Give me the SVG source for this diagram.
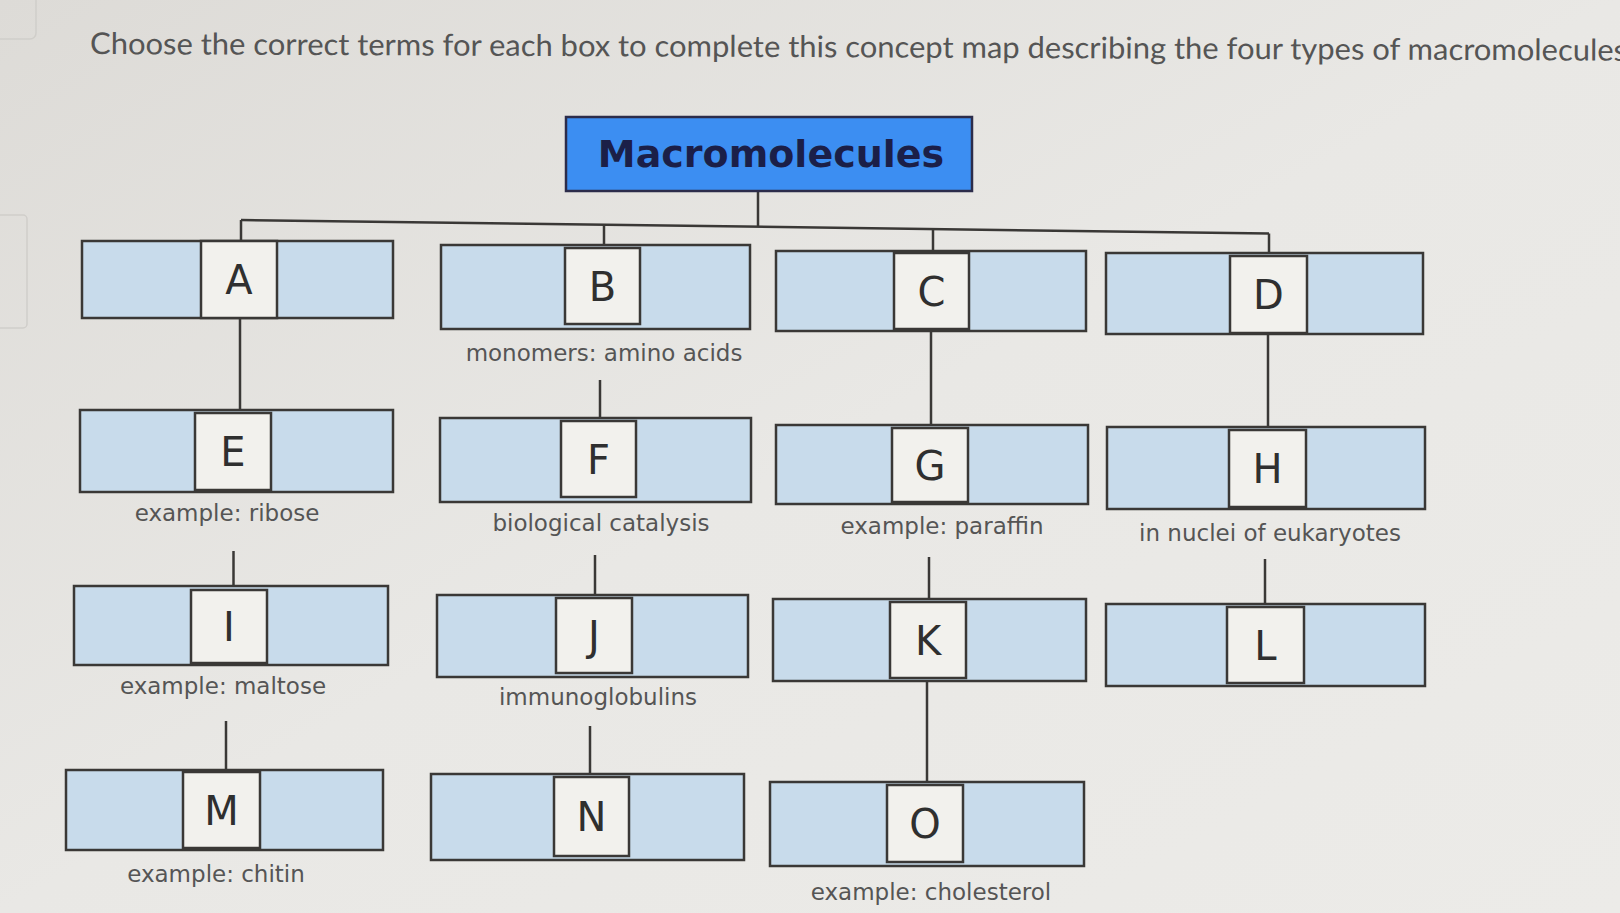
<svg xmlns="http://www.w3.org/2000/svg" width="1620" height="913" viewBox="0 0 1620 913">
<defs>
<linearGradient id="bg" x1="0" y1="0" x2="1" y2="1">
<stop offset="0" stop-color="#dddbd7"/>
<stop offset="0.5" stop-color="#e9e8e5"/>
<stop offset="1" stop-color="#ecebe8"/>
</linearGradient>
<style>
.box{fill:#c8dbeb;stroke:#3a3836;stroke-width:2.5}
.lbl{fill:#f2f1ed;stroke:#3a3836;stroke-width:2.5}
.letter{font-family:"DejaVu Sans",sans-serif;font-size:40px;fill:#2f2f2f;text-anchor:middle}
.desc{font-family:"DejaVu Sans",sans-serif;font-size:23px;fill:#555;text-anchor:middle}
.conn{stroke:#3a3836;stroke-width:2.5;fill:none}
</style>
</defs>
<rect width="1620" height="913" fill="url(#bg)"/>
<rect x="-10" y="-10" width="46" height="49" rx="6" fill="none" stroke="#d0ceca" stroke-width="1.5"/>
<rect x="-10" y="215" width="37" height="113" rx="4" fill="none" stroke="#d0ceca" stroke-width="1.5"/>
<text x="90" y="54" font-family="Lato, 'Liberation Sans', sans-serif" font-size="30" fill="#555" textLength="1537" lengthAdjust="spacingAndGlyphs" transform="rotate(0.25 90 54)">Choose the correct terms for each box to complete this concept map describing the four types of macromolecules</text>

<g id="connectors">
<line class="conn" x1="758" y1="191" x2="758" y2="227"/>
<line class="conn" x1="241" y1="220" x2="1269" y2="233.5"/>
<line class="conn" x1="241" y1="220" x2="241" y2="241"/>
<line class="conn" x1="604" y1="224.8" x2="604" y2="245"/>
<line class="conn" x1="933" y1="229" x2="933" y2="251"/>
<line class="conn" x1="1269" y1="233.5" x2="1269" y2="253"/>
<line class="conn" x1="240" y1="318" x2="240" y2="410"/>
<line class="conn" x1="233.5" y1="551" x2="233.5" y2="586"/>
<line class="conn" x1="226" y1="721" x2="226" y2="770"/>
<line class="conn" x1="600" y1="380" x2="600" y2="418"/>
<line class="conn" x1="595" y1="555" x2="595" y2="595"/>
<line class="conn" x1="590" y1="726" x2="590" y2="774"/>
<line class="conn" x1="931" y1="331" x2="931" y2="425"/>
<line class="conn" x1="929" y1="557" x2="929" y2="599"/>
<line class="conn" x1="927" y1="681" x2="927" y2="782"/>
<line class="conn" x1="1268" y1="334" x2="1268" y2="427"/>
<line class="conn" x1="1265" y1="559" x2="1265" y2="604"/>
</g>

<g id="node-macromolecules">
<rect x="566" y="117" width="406" height="74" fill="#3c8ef2" stroke="#2c2c4a" stroke-width="2.5"/>
<text x="771" y="167" font-family="'DejaVu Sans', sans-serif" font-weight="bold" font-size="38" fill="#1b1f48" text-anchor="middle">Macromolecules</text>
</g>

<g id="node-A"><rect class="box" x="82" y="241" width="311" height="77"/><rect class="lbl" x="201" y="241" width="76" height="77"/><text class="letter" x="239" y="294">A</text></g>
<g id="node-E"><rect class="box" x="80" y="410" width="313" height="82"/><rect class="lbl" x="195" y="413" width="76" height="77"/><text class="letter" x="233" y="466">E</text></g>
<g id="node-I"><rect class="box" x="74" y="586" width="314" height="79"/><rect class="lbl" x="191" y="590" width="76" height="73"/><text class="letter" x="229" y="641" font-family="'DejaVu Sans Mono', monospace">I</text></g>
<g id="node-M"><rect class="box" x="66" y="770" width="317" height="80"/><rect class="lbl" x="183" y="772" width="77" height="76"/><text class="letter" x="221.5" y="824.5">M</text></g>

<g id="node-B"><rect class="box" x="441" y="245" width="309" height="84"/><rect class="lbl" x="565" y="248" width="75" height="76"/><text class="letter" x="602.5" y="300.5">B</text></g>
<g id="node-F"><rect class="box" x="440" y="418" width="311" height="84"/><rect class="lbl" x="561" y="421" width="75" height="76"/><text class="letter" x="598.5" y="473.5">F</text></g>
<g id="node-J"><rect class="box" x="437" y="595" width="311" height="82"/><rect class="lbl" x="556" y="598" width="76" height="75"/><text class="letter" x="594" y="650" font-family="'DejaVu Sans Mono', monospace">J</text></g>
<g id="node-N"><rect class="box" x="431" y="774" width="313" height="86"/><rect class="lbl" x="554" y="777" width="75" height="79"/><text class="letter" x="591.5" y="831">N</text></g>

<g id="node-C"><rect class="box" x="776" y="251" width="310" height="80"/><rect class="lbl" x="894" y="253" width="75" height="76"/><text class="letter" x="931.5" y="305.5">C</text></g>
<g id="node-G"><rect class="box" x="776" y="425" width="312" height="79"/><rect class="lbl" x="892" y="428" width="76" height="74"/><text class="letter" x="930" y="479.5">G</text></g>
<g id="node-K"><rect class="box" x="773" y="599" width="313" height="82"/><rect class="lbl" x="890" y="602" width="76" height="76"/><text class="letter" x="928" y="654.5">K</text></g>
<g id="node-O"><rect class="box" x="770" y="782" width="314" height="84"/><rect class="lbl" x="887" y="785" width="76" height="77"/><text class="letter" x="925" y="838">O</text></g>

<g id="node-D"><rect class="box" x="1106" y="253" width="317" height="81"/><rect class="lbl" x="1230" y="256" width="77" height="77"/><text class="letter" x="1268.5" y="309">D</text></g>
<g id="node-H"><rect class="box" x="1107" y="427" width="318" height="82"/><rect class="lbl" x="1229" y="430" width="77" height="77"/><text class="letter" x="1267.5" y="483">H</text></g>
<g id="node-L"><rect class="box" x="1106" y="604" width="319" height="82"/><rect class="lbl" x="1227" y="607" width="77" height="76"/><text class="letter" x="1265.5" y="659.5">L</text></g>

<g id="notes">
<text class="desc" x="227" y="521">example: ribose</text>
<text class="desc" x="223" y="694">example: maltose</text>
<text class="desc" x="216" y="882">example: chitin</text>
<text class="desc" x="604" y="361">monomers: amino acids</text>
<text class="desc" x="601" y="531">biological catalysis</text>
<text class="desc" x="598" y="705">immunoglobulins</text>
<text class="desc" x="942" y="534">example: paraffin</text>
<text class="desc" x="1270" y="541">in nuclei of eukaryotes</text>
<text class="desc" x="931" y="900">example: cholesterol</text>
</g>
</svg>
